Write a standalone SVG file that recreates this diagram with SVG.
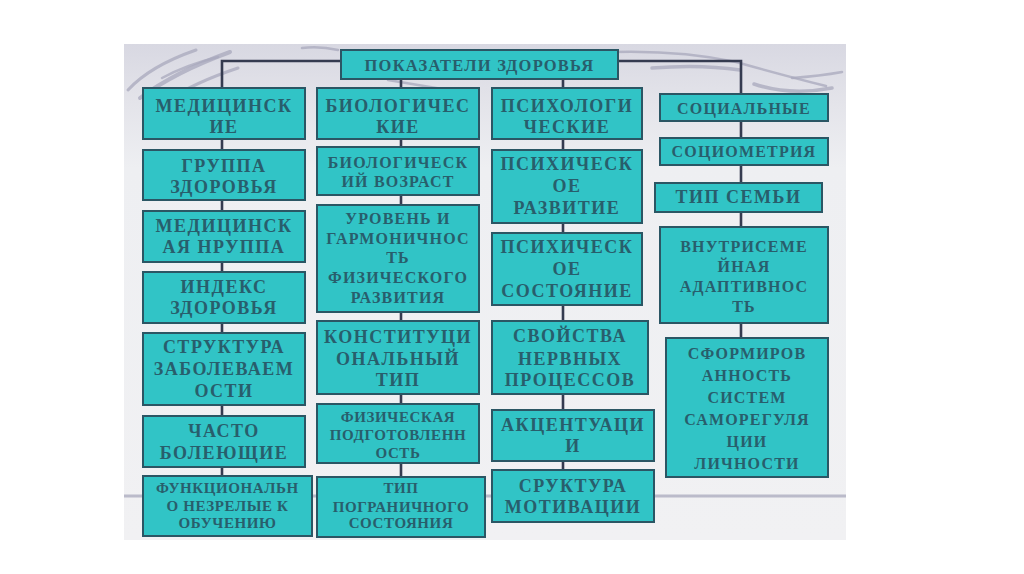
<svg xmlns="http://www.w3.org/2000/svg" width="1024" height="574" viewBox="0 0 1024 574">
<defs>
<linearGradient id="bg" x1="0" y1="0" x2="0" y2="1">
<stop offset="0" stop-color="#d8d8e2"/>
<stop offset="0.12" stop-color="#e4e4ea"/>
<stop offset="0.25" stop-color="#eeeff2"/>
<stop offset="1" stop-color="#f1f1f3"/>
</linearGradient>
<clipPath id="clipbg"><rect x="124" y="44" width="722" height="496"/></clipPath>
<style>
.box{fill:#31c4c6;stroke:#2b5664;stroke-width:2}
.conn{stroke:#353b50;stroke-width:2.6;fill:none}
.sw{stroke:#a8a8bc;fill:none;stroke-linecap:round;opacity:0.75}
text{font-family:"Liberation Serif","Times New Roman",serif;font-weight:bold;fill:#285e6c;text-anchor:middle}
.t{font-size:18px;letter-spacing:1.5px}
.m{font-size:16px;letter-spacing:1.2px}
.s{font-size:15px;letter-spacing:0.6px}
</style>
</defs>
<rect width="1024" height="574" fill="#ffffff"/>
<g id="background">
<rect x="124" y="44" width="722" height="496" fill="url(#bg)"/>
<g clip-path="url(#clipbg)">
<path class="sw" stroke-width="3" d="M128,90 Q150,66 196,50"/>
<path class="sw" stroke-width="4" d="M140,98 Q175,72 230,52"/>
<path class="sw" stroke-width="2.5" d="M162,78 Q186,65 218,57"/>
<path class="sw" stroke-width="3" d="M168,100 Q196,82 238,68"/>
<path class="sw" stroke-width="2.5" d="M302,48 Q320,46 338,50"/>
<path class="sw" stroke-width="2.5" d="M388,80 Q412,84 448,90"/>
<path class="sw" stroke-width="2.5" d="M612,52 Q680,50 736,62 Q786,76 826,86"/>
<path class="sw" stroke-width="3.5" d="M652,68 Q700,64 740,70"/>
<path class="sw" stroke-width="3.5" d="M754,84 Q790,96 832,88"/>
<path class="sw" stroke-width="2.5" d="M792,78 Q820,76 842,72"/>
<path class="sw" stroke-width="3" d="M124,496 L846,496"/>
</g>
</g>
<g id="connectors">
<path class="conn" d="M341,61 H222 V476"/>
<path class="conn" d="M618,61 H741 V338"/>
<path class="conn" d="M401,79 V477"/>
<path class="conn" d="M563,79 V470"/>
</g>
<g id="title"><rect class="box" x="341" y="50" width="277" height="29"/><text x="479.5" y="71" style="font-size:16.5px;letter-spacing:1.2px">ПОКАЗАТЕЛИ ЗДОРОВЬЯ</text></g>
<g id="med"><rect class="box" x="143" y="88" width="162" height="51"/><text class="t" x="224" y="112">МЕДИЦИНСК</text><text class="t" x="224" y="133">ИЕ</text></g>
<g id="med1"><rect class="box" x="143" y="150" width="162" height="50"/><text class="t" x="224" y="172">ГРУППА</text><text class="t" x="224" y="193">ЗДОРОВЬЯ</text></g>
<g id="med2"><rect class="box" x="143" y="211" width="162" height="51"/><text class="t" x="224" y="232">МЕДИЦИНСК</text><text class="t" x="224" y="253">АЯ НРУППА</text></g>
<g id="med3"><rect class="box" x="143" y="272" width="162" height="51"/><text class="t" x="224" y="293">ИНДЕКС</text><text class="t" x="224" y="314">ЗДОРОВЬЯ</text></g>
<g id="med4"><rect class="box" x="143" y="333" width="162" height="72"/><text class="t" x="224" y="353">СТРУКТУРА</text><text class="t" x="224" y="375">ЗАБОЛЕВАЕМ</text><text class="t" x="224" y="397">ОСТИ</text></g>
<g id="med5"><rect class="box" x="143" y="416" width="162" height="51"/><text class="t" x="224" y="437">ЧАСТО</text><text class="t" x="224" y="459">БОЛЕЮЩИЕ</text></g>
<g id="med6"><rect class="box" x="143" y="476" width="169" height="60"/><text class="s" x="227.5" y="493">ФУНКЦИОНАЛЬН</text><text class="s" x="227.5" y="511">О НЕЗРЕЛЫЕ К</text><text class="s" x="227.5" y="528">ОБУЧЕНИЮ</text></g>
<g id="bio"><rect class="box" x="317" y="88" width="162" height="51"/><text class="t" x="398" y="112">БИОЛОГИЧЕС</text><text class="t" x="398" y="133">КИЕ</text></g>
<g id="bio1"><rect class="box" x="317" y="147" width="162" height="48"/><text class="m" x="398" y="168">БИОЛОГИЧЕСК</text><text class="m" x="398" y="187">ИЙ ВОЗРАСТ</text></g>
<g id="bio2"><rect class="box" x="317" y="205" width="162" height="107"/><text class="m" x="398" y="224">УРОВЕНЬ И</text><text class="m" x="398" y="244">ГАРМОНИЧНОС</text><text class="m" x="398" y="263">ТЬ</text><text class="m" x="398" y="283">ФИЗИЧЕСКОГО</text><text class="m" x="398" y="303">РАЗВИТИЯ</text></g>
<g id="bio3"><rect class="box" x="317" y="321" width="162" height="73"/><text class="t" x="398" y="343">КОНСТИТУЦИ</text><text class="t" x="398" y="365">ОНАЛЬНЫЙ</text><text class="t" x="398" y="386">ТИП</text></g>
<g id="bio4"><rect class="box" x="317" y="404" width="162" height="59"/><text class="s" x="398" y="422">ФИЗИЧЕСКАЯ</text><text class="s" x="398" y="440">ПОДГОТОВЛЕНН</text><text class="s" x="398" y="458">ОСТЬ</text></g>
<g id="bio5"><rect class="box" x="317" y="477" width="168" height="60"/><text class="s" x="401" y="493">ТИП</text><text class="s" x="401" y="512">ПОГРАНИЧНОГО</text><text class="s" x="401" y="528">СОСТОЯНИЯ</text></g>
<g id="psy"><rect class="box" x="492" y="88" width="150" height="51"/><text class="t" x="567" y="112">ПСИХОЛОГИ</text><text class="t" x="567" y="133">ЧЕСКИЕ</text></g>
<g id="psy1"><rect class="box" x="492" y="150" width="150" height="73"/><text class="t" x="567" y="170">ПСИХИЧЕСК</text><text class="t" x="567" y="192">ОЕ</text><text class="t" x="567" y="214">РАЗВИТИЕ</text></g>
<g id="psy2"><rect class="box" x="492" y="233" width="150" height="72"/><text class="t" x="567" y="253">ПСИХИЧЕСК</text><text class="t" x="567" y="275">ОЕ</text><text class="t" x="567" y="297">СОСТОЯНИЕ</text></g>
<g id="psy3"><rect class="box" x="492" y="321" width="156" height="73"/><text class="t" x="570" y="342">СВОЙСТВА</text><text class="t" x="570" y="365">НЕРВНЫХ</text><text class="t" x="570" y="386">ПРОЦЕССОВ</text></g>
<g id="psy4"><rect class="box" x="492" y="410" width="162" height="51"/><text class="t" x="573" y="431">АКЦЕНТУАЦИ</text><text class="t" x="573" y="452">И</text></g>
<g id="psy5"><rect class="box" x="492" y="470" width="162" height="52"/><text class="t" x="573" y="492">СРУКТУРА</text><text class="t" x="573" y="513">МОТИВАЦИИ</text></g>
<g id="soc"><rect class="box" x="660" y="94" width="168" height="27"/><text class="m" x="744" y="114">СОЦИАЛЬНЫЕ</text></g>
<g id="soc1"><rect class="box" x="660" y="138" width="168" height="27"/><text class="m" x="744" y="157">СОЦИОМЕТРИЯ</text></g>
<g id="soc2"><rect class="box" x="655" y="183" width="167" height="29"/><text class="t" x="738.5" y="203">ТИП СЕМЬИ</text></g>
<g id="soc3"><rect class="box" x="660" y="227" width="168" height="96"/><text class="m" x="744" y="252">ВНУТРИСЕМЕ</text><text class="m" x="744" y="272">ЙНАЯ</text><text class="m" x="744" y="292">АДАПТИВНОС</text><text class="m" x="744" y="312">ТЬ</text></g>
<g id="soc4"><rect class="box" x="666" y="338" width="162" height="139"/><text class="m" x="747" y="359">СФОРМИРОВ</text><text class="m" x="747" y="381">АННОСТЬ</text><text class="m" x="747" y="403">СИСТЕМ</text><text class="m" x="747" y="425">САМОРЕГУЛЯ</text><text class="m" x="747" y="447">ЦИИ</text><text class="m" x="747" y="469">ЛИЧНОСТИ</text></g>
</svg>
